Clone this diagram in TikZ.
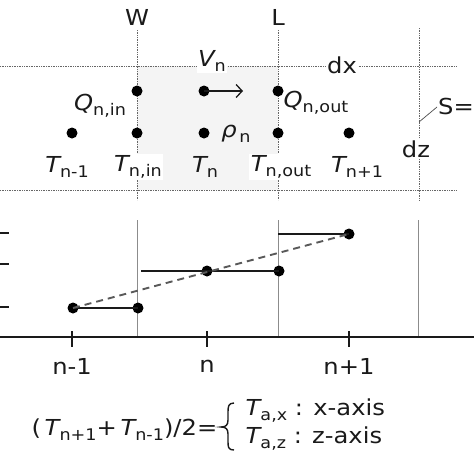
\documentclass[tikz,border=0pt]{standalone}
\usepackage{fontspec}
\setmainfont[FakeStretch=1.1]{DejaVu Sans}
\usetikzlibrary{arrows.meta}
\newcommand\lsub[1]{\raisebox{-5pt}{\fontsize{16}{16}\selectfont #1}}
\newcommand\lbl[2]{{\itshape #1}\lsub{#2}}
\definecolor{ink}{HTML}{1A1A1A}
\definecolor{cellgray}{HTML}{F4F4F4}
\tikzset{
  lab/.style={font=\fontsize{22}{26}\selectfont, text=ink, inner sep=1.5pt},
  wlab/.style={lab, fill=white},
  dotline/.style={densely dotted, line width=0.7pt, draw=black!60},
  grid/.style={line width=0.6pt, draw=black!45},
  dotnode/.style={circle, fill=black, inner sep=0pt, minimum size=11pt},
  seg/.style={line width=1.4pt, draw=ink}
}
\begin{document}
\begin{tikzpicture}[x=1pt,y=-1pt]
\useasboundingbox (0,0) rectangle (474,474);
% shaded cell
\fill[cellgray] (137,66) rectangle (278,190);
% coordinates
\coordinate (tl) at (0,66);   \coordinate (tr) at (457,66);
\coordinate (bl) at (0,190);  \coordinate (br) at (457,190);
\coordinate (wt) at (137,30); \coordinate (wb) at (137,200);
\coordinate (lt) at (278,30); \coordinate (lb) at (278,200);
\coordinate (rt) at (419,28); \coordinate (rb) at (419,200);
\draw[dotline] (tl) -- (tr);
\draw[dotline] (bl) -- (br);
\draw[dotline] (wt) -- (wb);
\draw[dotline] (lt) -- (lb);
\draw[dotline] (rt) -- (rb);
% labels on top of lines
\node[lab] (W) at (137,17) {W};
\node[lab] (L) at (278,17) {L};
\node[wlab] (vn) at (212,61) {\lbl{V}{n}};
\node[wlab] (dx) at (342,65) {dx};
\node[wlab] (dz) at (416,149) {dz};
\coordinate (sa) at (419,122);
\coordinate (sb) at (437,107);
\draw[line width=0.7pt, draw=black!70] (sa) -- (sb);
\node[lab, anchor=west, inner sep=0pt] (S) at (438,106) {S=};
% dots upper
\node[dotnode] (qin) at (137,91) {};
\node[dotnode] (tind) at (137,133) {};
\node[dotnode] (tm1d) at (72,133) {};
\node[dotnode] (vd) at (204,91) {};
\node[dotnode] (tnd) at (204,133) {};
\node[dotnode] (qout) at (278,91) {};
\node[dotnode] (toutd) at (278,133) {};
\node[dotnode] (tp1d) at (349,133) {};
\coordinate (vend) at (243,91);
\draw[line width=1.5pt, draw=ink, -{Straight Barb[length=6pt,width=13pt,line width=1.3pt]}] (vd.center) -- (vend);
% labels upper
\node[lab] (lqin) at (100,106) {\lbl{Q}{n,in}};
\node[lab] (ltm1) at (67,167) {\lbl{T}{n-1}};
\node[wlab] (ltin) at (138,167) {\lbl{T}{n,in}};
\node[lab] (ltn) at (205,167) {\lbl{T}{n}};
\node[lab] (lrho) at (236,134) {\lbl{ρ}{\,n}};
\node[lab] (lqout) at (316,103) {\lbl{Q}{n,out}};
\node[wlab] (ltout) at (281,167) {\lbl{T}{n,out}};
\node[lab] (ltp1) at (357,167) {\lbl{T}{n+1}};
% lower plot
\coordinate (ax0) at (0,337); \coordinate (ax1) at (474,337);
\coordinate (w2t) at (137,220); \coordinate (w2b) at (137,337);
\coordinate (l2t) at (278,220); \coordinate (l2b) at (278,337);
\coordinate (r2t) at (418,220); \coordinate (r2b) at (418,337);
\draw[grid] (w2t) -- (w2b);
\draw[grid] (l2t) -- (l2b);
\draw[grid] (r2t) -- (r2b);
\draw[seg] (ax0) -- (ax1);
\foreach \x/\t [count=\i] in {72/n-1,207/n,349/n+1}{
  \coordinate (tk\i a) at (\x,331);
  \coordinate (tk\i b) at (\x,347);
  \draw[seg] (tk\i a) -- (tk\i b);
  \node[lab] (tl\i) at (\x,366) {\t};
}
\foreach \y [count=\i] in {233,264,307}{
  \coordinate (ya\i) at (0,\y);
  \coordinate (yb\i) at (9,\y);
  \draw[seg] (ya\i) -- (yb\i);
}
\node[dotnode] (p1) at (73,308) {};
\node[dotnode] (p2) at (138,308) {};
\node[dotnode] (p3) at (207,271) {};
\node[dotnode] (p4) at (279,271) {};
\node[dotnode] (p5) at (349,234) {};
\coordinate (s2a) at (141,271);
\coordinate (s3a) at (278,234);
\draw[seg] (p1.center) -- (p2.center);
\draw[seg] (s2a) -- (p4.center);
\draw[seg] (s3a) -- (p5.center);
\draw[line width=1.9pt, draw=black!65, dash pattern=on 7pt off 5pt] (p1.center) -- (p5.center);
% formula
\node[lab, anchor=east] (f1) at (219,430) {(\,\lbl{T}{n+1}+\,\lbl{T}{n-1})/2=};
\draw[line width=1.4pt, draw=ink] (234,403) .. controls (228,403) and (228,407) .. (228,413) -- (228,420) .. controls (228,425) and (226,427) .. (221,427) .. controls (226,427) and (228,429) .. (228,434) -- (228,441) .. controls (228,447) and (228,450) .. (234,450);
\node[lab, anchor=west] (fx) at (244,411) {\lbl{T}{a,x} : x-axis};
\node[lab, anchor=west] (fz) at (244,439) {\lbl{T}{a,z} : z-axis};
\end{tikzpicture}
\end{document}
